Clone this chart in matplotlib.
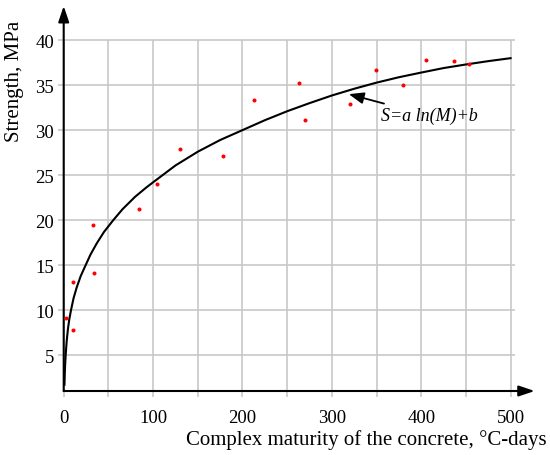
import matplotlib
matplotlib.use("Agg")
import matplotlib.pyplot as plt

plt.rcParams['font.family'] = ['Liberation Serif', 'DejaVu Serif']

# measured points (maturity, strength)
maturity = [2.2, 10.4, 10.8, 33.1, 33.5, 84.2, 103.9, 130, 177.8, 212.5,
            263.5, 270, 320.6, 349, 379.6, 405, 437, 453.4]
strength = [9.1, 13.1, 7.8, 19.4, 14.1, 21.2, 24.0, 27.9, 27.1, 33.4,
            35.2, 31.1, 32.9, 36.7, 35.0, 37.8, 37.7, 37.3]

# fitted curve S = a ln(M) + b
curve_m = [0.88, 1.2, 1.6, 2.2, 3.3, 4.8, 6.3, 8.2, 11, 14.5, 19, 24.6, 30,
           36.9, 45, 55.5, 66, 80, 92, 100, 125, 150, 175, 200, 225, 250,
           275, 300, 325, 350, 375, 400, 425, 450, 475, 500]
curve_s = [1.7, 2.9, 3.9, 5.0, 6.5, 7.95, 9.0, 10.0, 11.3, 12.5, 13.77, 15.0,
           16.17, 17.4, 18.67, 20.0, 21.23, 22.6, 23.59, 24.2, 26.07, 27.6,
           28.9, 30.0, 31.1, 32.1, 33.0, 33.85, 34.6, 35.28, 35.88, 36.4,
           36.9, 37.3, 37.67, 38.0]

x_ticks = [0, 100, 200, 300, 400, 500]
x_grid = [0, 50, 100, 150, 200, 250, 300, 350, 400, 450, 500]
y_ticks = [5, 10, 15, 20, 25, 30, 35, 40]

W, H = 550, 456
fig = plt.figure(figsize=(W / 100, H / 100), dpi=100)
ax = fig.add_axes([63.7 / W, (H - 392) / H, 471 / W, 385 / H])
ax.set_xlim(0, 527)
ax.set_ylim(1, 43.8)

grid_kw = dict(color='#c8c8c8', lw=1.2, clip_on=False, zorder=1)
ax.vlines(x_grid, 0.3, 40, **grid_kw)
ax.hlines(y_ticks, -6, 505, **grid_kw)

for s in ax.spines.values():
    s.set_visible(False)

arrow_kw = dict(arrowstyle='-|>,head_length=0.95,head_width=0.32',
                mutation_scale=10, color='black', lw=1.5,
                shrinkA=0, shrinkB=0)
ax.annotate('', xy=(0, 1), xytext=(0, 0), xycoords='axes fraction',
            arrowprops=arrow_kw, annotation_clip=False)
ax.annotate('', xy=(1, 0), xytext=(0, 0), xycoords='axes fraction',
            arrowprops=arrow_kw, annotation_clip=False)

ax.plot(curve_m, curve_s, color='black', lw=1.5, zorder=3,
        solid_joinstyle='round')
ax.plot(maturity, strength, 'o', color='red', ms=2.9, mec='none', zorder=4,
        clip_on=False)

ax.annotate('S=a ln(M)+b', xy=(319, 34.0), xytext=(355, 31.6),
            fontsize=13, style='italic', va='center', ha='left',
            arrowprops=dict(arrowstyle='-|>,head_length=0.9,head_width=0.35',
                            mutation_scale=10, color='black', lw=1.3,
                            shrinkA=2, shrinkB=0))

ax.set_xticks(x_ticks)
ax.set_yticks(y_ticks)
ax.tick_params(length=0, labelsize=13.5)
ax.tick_params(axis='y', pad=7)
ax.tick_params(axis='x', pad=13)

fig.text(547 / W, 1 - 445 / H, 'Complex maturity of the concrete, °C-days',
         ha='right', va='baseline', fontsize=15)
fig.text(19 / W, 1 - 81 / H, 'Strength, MPa', rotation=90,
         ha='center', va='baseline', fontsize=15, rotation_mode='anchor')

fig.savefig('out.png', dpi=100)
